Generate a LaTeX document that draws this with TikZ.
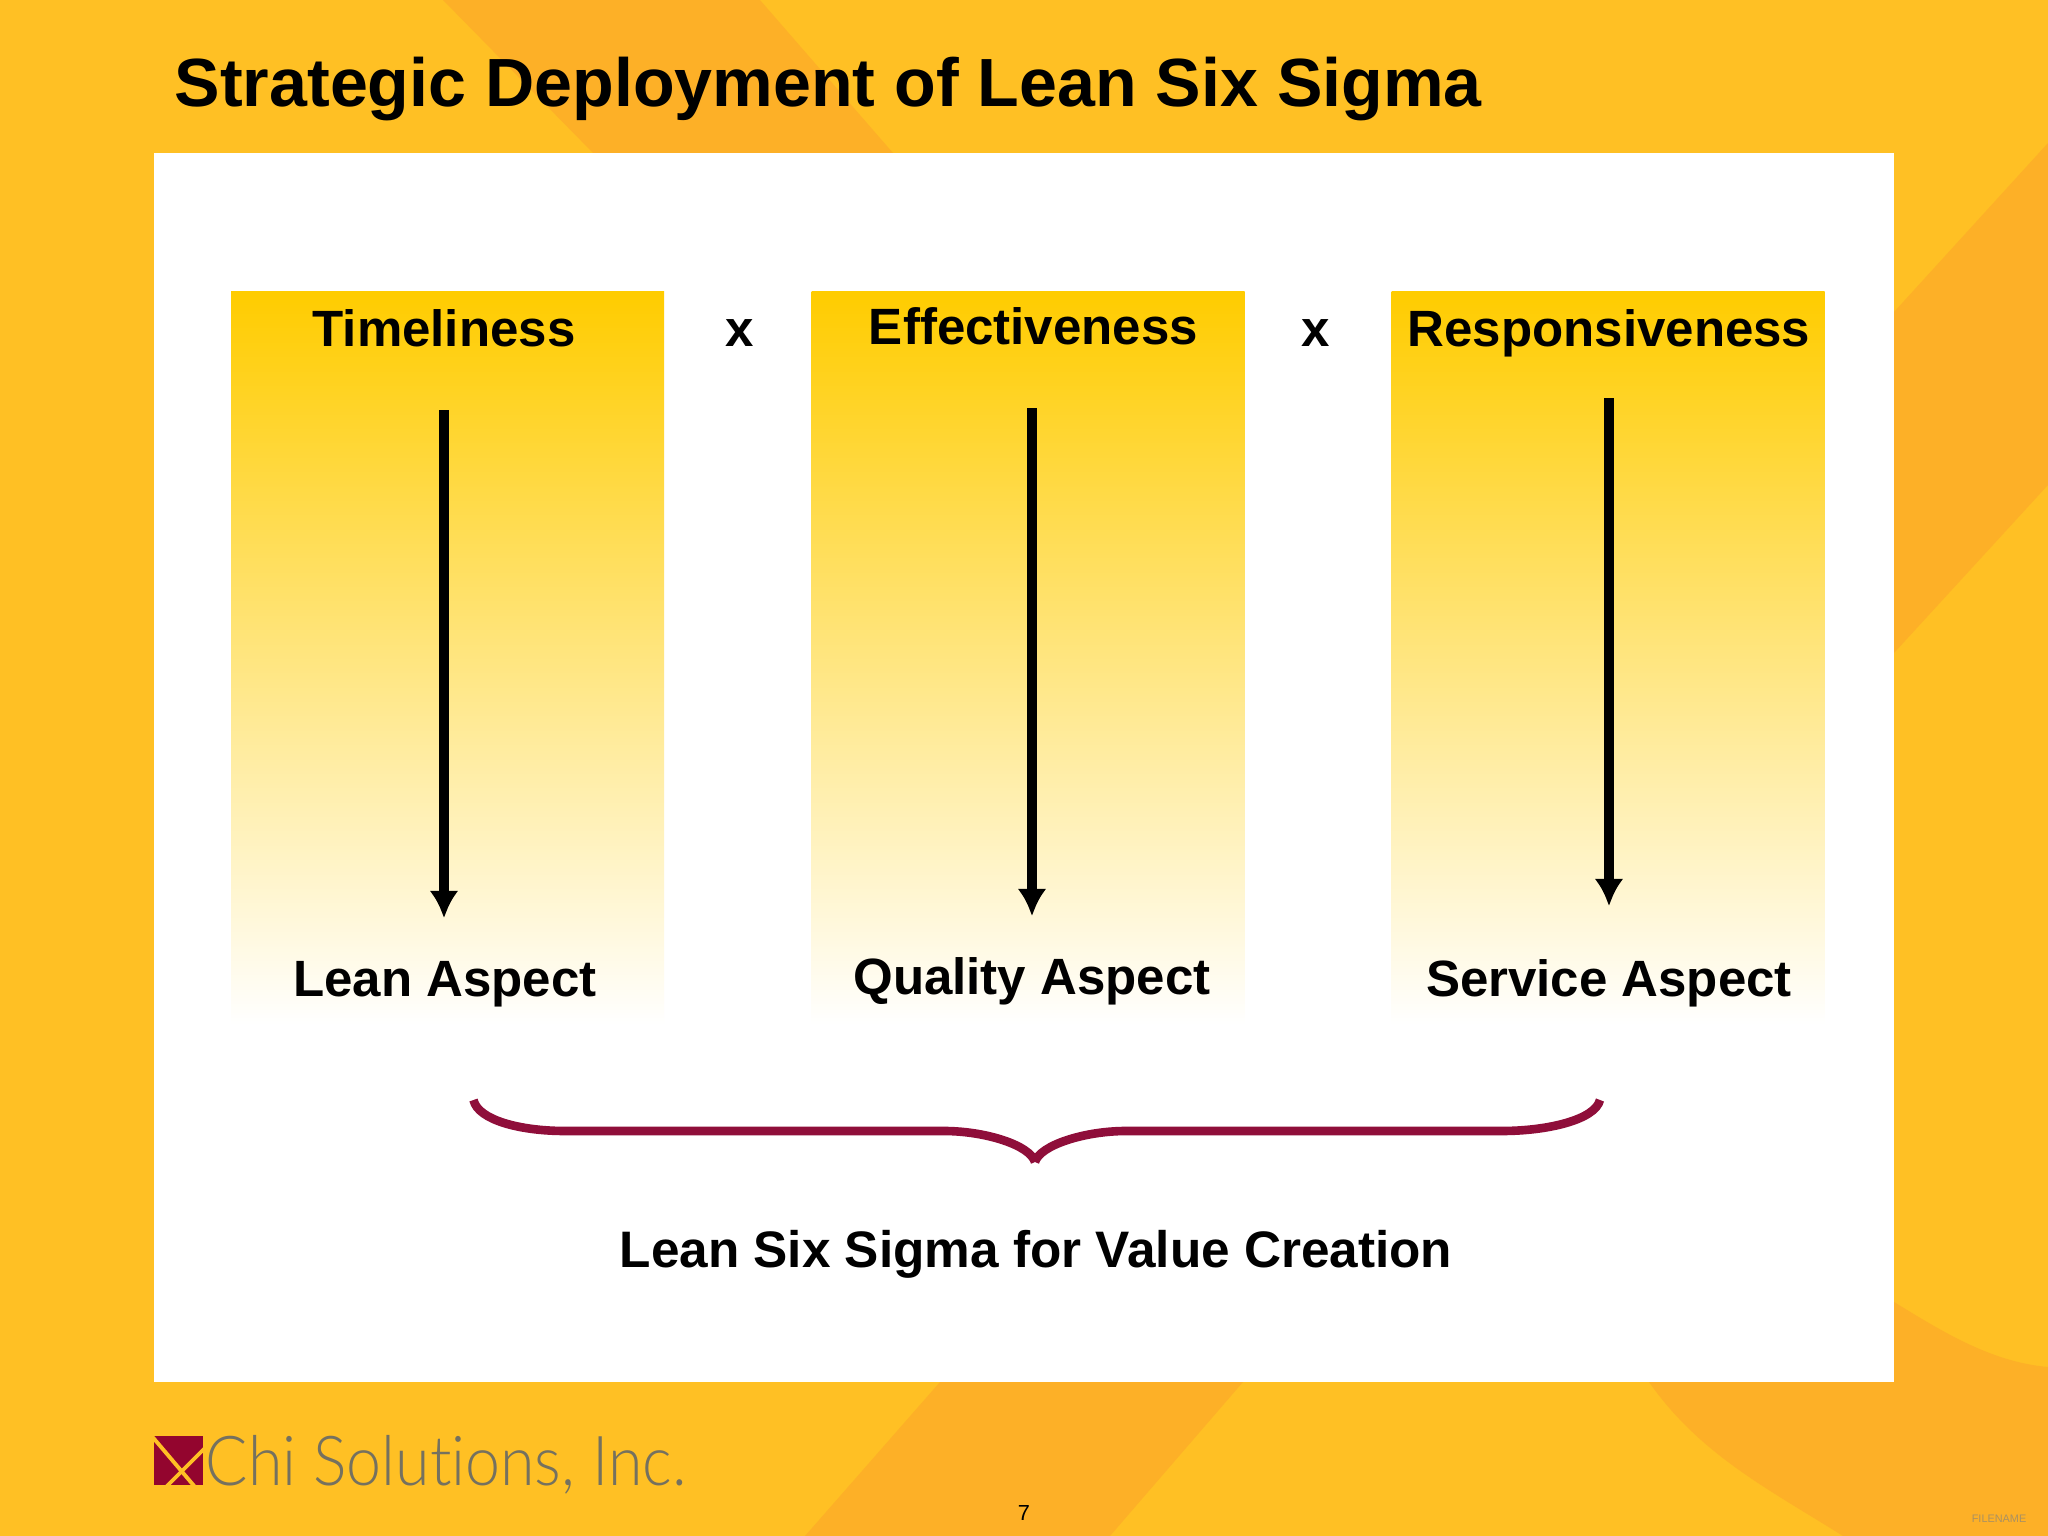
\documentclass[tikz,border=0pt]{standalone}
\usepackage{fontspec}
\setmainfont{Liberation Sans}
\newfontfamily\logofont[Ligatures=NoCommon]{Lato Light}
\usetikzlibrary{arrows.meta}
\definecolor{basegold}{HTML}{FFC024}
\definecolor{bandgold}{HTML}{FDB027}
\definecolor{barcolor}{HTML}{FFCC00}
\definecolor{bracered}{HTML}{8F0E3A}
\definecolor{logored}{HTML}{93052E}
\definecolor{logogray}{HTML}{75715F}
\begin{document}
\begin{tikzpicture}[x=1cm,y=-1cm]
        \tikzset{
            colbox/.style={top color=barcolor,bottom color=white,minimum width=4.33cm,minimum height=7.33cm,inner sep=0pt},
            collabel/.style={font=\bfseries\fontsize{14.52}{17}\selectfont,anchor=base,inner sep=0pt,text height=0.75cm,text depth=0.2cm},
            timesign/.style={font=\bfseries\fontsize{14.52}{17}\selectfont,anchor=base,inner sep=0pt},
            flowarrow/.style={line width=2.7pt,-{Latex[length=7.8pt,width=8.2pt]}}
        }
        \useasboundingbox (0,0) rectangle (20.48,15.36);
        \fill[basegold] (0,0) rectangle (20.48,15.36);
        \fill[bandgold] (4.43,0) -- (7.60,0) -- (8.93,1.53) -- (5.93,1.53) -- cycle;
        \fill[bandgold] (9.40,13.82) -- (12.43,13.82) -- (11.10,15.36) -- (8.05,15.36) -- cycle;
        \fill[bandgold] (18.94,3.12) -- (20.48,1.43) -- (20.48,4.85) -- (18.94,6.53) -- cycle;
        \fill[bandgold] (16.49,13.82) .. controls (17.0,14.55) and (17.7,14.9) .. (18.43,15.36) -- (20.48,15.36) -- (20.48,13.67) .. controls (19.9,13.62) and (19.4,13.3) .. (18.94,13.02) -- cycle;
        \fill[white] (1.54,1.53) rectangle (18.94,13.82);
        \node[font=\bfseries\fontsize{19.4}{23}\selectfont,anchor=base west,inner sep=0pt] (title) at (1.74,1.07) {Strategic Deployment of Lean Six Sigma};
        \node[colbox] (timecol) at (4.475,6.585) {};
        \node[colbox] (effcol) at (10.28,6.585) {};
        \node[colbox] (respcol) at (16.08,6.585) {};
        \node[collabel] (timeliness) at (4.44,3.465) {Timeliness};
        \node[collabel] (effectiveness) at (10.335,3.445) {Effectiveness};
        \node[collabel] (responsiveness) at (16.09,3.465) {Responsiveness};
        \node[collabel] (leanaspect) at (4.45,9.96) {Lean Aspect};
        \node[collabel] (qualityaspect) at (10.32,9.94) {Quality Aspect};
        \node[collabel] (serviceaspect) at (16.09,9.96) {Service Aspect};
        \node[timesign] (signa) at (7.40,3.47) {x};
        \node[timesign] (signb) at (13.16,3.47) {x};
        \draw[flowarrow,shorten <=0.43cm,shorten >=0.02cm] (timeliness.south) -- (timeliness.south |- leanaspect.north);
        \draw[flowarrow,shorten <=0.43cm,shorten >=0.02cm] (effectiveness.south -| qualityaspect.north) -- (qualityaspect.north);
        \draw[flowarrow,shorten <=0.31cm,shorten >=0.14cm] (responsiveness.south) -- (responsiveness.south |- serviceaspect.north);
        \draw[bracered,line width=2.45pt] (4.735,11.0) .. controls (4.78,11.2) and (5.2,11.31) .. (5.65,11.31) -- (9.44,11.31) .. controls (9.85,11.31) and (10.3,11.45) .. (10.35,11.62);
        \draw[bracered,line width=2.45pt] (10.35,11.62) .. controls (10.4,11.45) and (10.85,11.31) .. (11.26,11.31) -- (15.02,11.31) .. controls (15.47,11.31) and (15.95,11.2) .. (16.0,11.0);
        \node[timesign,font=\bfseries\fontsize{14.6}{17}\selectfont] (summary) at (10.36,12.67) {Lean Six Sigma for Value Creation};
        \fill[logored] (1.54,14.36) rectangle (2.03,14.85);
        \begin{scope}
            \clip (1.54,14.36) rectangle (2.03,14.85);
            \draw[basegold,line width=1.1pt] (1.50,14.34) -- (1.95,14.87);
            \draw[basegold,line width=1.1pt] (2.05,14.48) -- (1.66,14.87);
        \end{scope}
        \node[font=\logofont\fontsize{19.6}{24}\selectfont,text=logogray,anchor=base west,inner sep=0pt,xscale=0.91] (logotext) at (2.05,14.85) {Chi Solutions, Inc.};
        \node[font=\fontsize{6.2}{8}\selectfont,inner sep=0pt] (pagenum) at (10.24,15.13) {7};
        \node[font=\fontsize{3.1}{4}\selectfont,text=gray!65!bandgold,anchor=east,inner sep=0pt] (filename) at (20.27,15.19) {FILENAME};
    \end{tikzpicture}
\end{document}
